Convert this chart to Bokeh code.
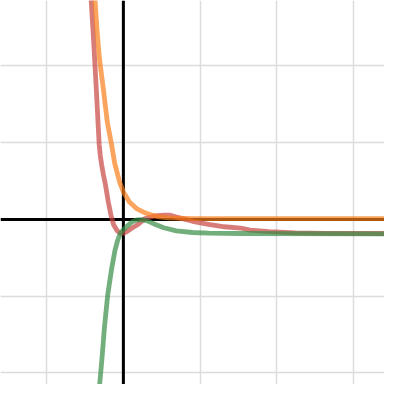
# Recreating a graph-paper style plot of three curves with Bokeh.
from bokeh.plotting import figure
from bokeh.models import Range1d, Span, FixedTicker
from bokeh.embed import file_html
from bokeh.resources import INLINE

# Values (graph units).
red_x = [-0.431, -0.419, -0.396, -0.375, -0.3575, -0.341, -0.325, -0.315, -0.30,
         -0.281, -0.259, -0.2375, -0.196, -0.1625, -0.129, -0.079, -0.0375, 0.006,
         0.046, 0.1125, 0.19, 0.275, 0.359, 0.4375, 0.525, 0.6125, 0.69, 0.796,
         0.90, 1.109, 1.316, 1.525, 1.65, 1.90, 2.2375, 2.65, 3.40]
red_y = [3.04, 2.85, 2.475, 2.10, 1.7875, 1.475, 1.1625, 0.975, 0.825,
         0.70, 0.575, 0.475, 0.225, 0.059, -0.066, -0.15, -0.181, -0.179,
         -0.159, -0.1125, -0.066, 0.006, 0.031, 0.05, 0.056, 0.054, 0.031, 0.0025,
         -0.025, -0.066, -0.096, -0.1125, -0.141, -0.159, -0.175, -0.181, -0.184]

orange_x = [-0.381, -0.369, -0.344, -0.3125, -0.26, -0.209, -0.154, -0.1125,
            -0.046, 0.004, 0.079, 0.171, 0.296, 0.4375, 0.5875, 0.90, 3.40]
orange_y = [3.04, 2.85, 2.475, 2.10, 1.69, 1.266, 0.975, 0.725,
            0.475, 0.35, 0.225, 0.141, 0.079, 0.0375, 0.019, 0.01, 0.009]

green_x = [-0.319, -0.309, -0.279, -0.246, -0.204, -0.154, -0.109, -0.075, -0.0375,
           0.025, 0.109, 0.175, 0.2375, 0.3125, 0.40, 0.525, 0.69, 0.90, 1.109,
           1.525, 3.40]
green_y = [-2.34, -2.15, -1.816, -1.40, -0.984, -0.65, -0.40, -0.275, -0.175,
           -0.109, -0.034, -0.006, -0.0025, -0.019, -0.059, -0.109, -0.15, -0.171, -0.179,
           -0.184, -0.1875]

x_ticks = [-1, 0, 1, 2, 3]
y_ticks = [-2, -1, 0, 1, 2]

p = figure(width=384, height=384, x_range=Range1d(-1.6, 3.4), y_range=Range1d(-2.15, 2.85),
           output_backend="svg", toolbar_location=None, min_border=0)
p.outline_line_color = None
p.axis.visible = False
p.xgrid.ticker = FixedTicker(ticks=x_ticks)
p.ygrid.ticker = FixedTicker(ticks=y_ticks)
p.grid.grid_line_color = "#dcdcdc"
p.grid.grid_line_width = 1.5

# the two black axes through the origin
p.add_layout(Span(location=0, dimension="width", line_color="black", line_width=3, level="underlay"))
p.add_layout(Span(location=0, dimension="height", line_color="black", line_width=3, level="underlay"))

curve_style = dict(line_alpha=0.7, line_width=4.8, line_join="round", line_cap="round")
p.line(red_x, red_y, line_color="#c74440", **curve_style)
p.line(green_x, green_y, line_color="#388c46", **curve_style)
p.line(orange_x, orange_y, line_color="#fa7e19", **curve_style)

open("out.html", "w").write(file_html(p, INLINE))
